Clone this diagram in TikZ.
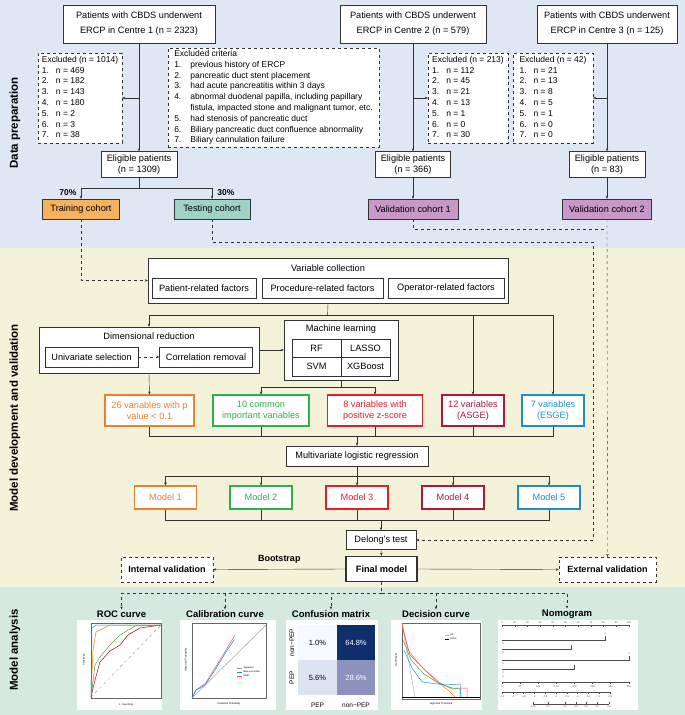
\documentclass[tikz,border=0pt]{standalone}
\usepackage{fontspec}
\setmainfont{Liberation Sans}
\usetikzlibrary{arrows.meta}
\definecolor{bgblue}{HTML}{DFE6F4}
\definecolor{bgyel}{HTML}{F4F2D9}
\definecolor{bggrn}{HTML}{D6E9E0}
\definecolor{ctrain}{HTML}{F6B25C}
\definecolor{ctest}{HTML}{9FD4C5}
\definecolor{cval}{HTML}{C898C7}
\definecolor{corg}{HTML}{F07F2A}
\definecolor{cgrn}{HTML}{2BB24C}
\definecolor{cred}{HTML}{EC1C24}
\definecolor{ccrim}{HTML}{B3163B}
\definecolor{cblu}{HTML}{1E8DCE}
\definecolor{cm1}{HTML}{F6F9FE}
\definecolor{cm2}{HTML}{0E2F6C}
\definecolor{cm3}{HTML}{DCE4F2}
\definecolor{cm4}{HTML}{8A92BD}
\begin{document}
\begin{tikzpicture}[x=1pt,y=-1pt,
  box/.style={draw=black!80,fill=white,inner sep=1pt,align=center,font=\fontsize{9.2}{11}\selectfont},
  dbox/.style={box,dashed},
  cbox/.style={box,line width=1.1pt,font=\fontsize{9.2}{11}\selectfont},
  lst/.style={dbox,font=\fontsize{8.5}{10.8}\selectfont},
  arr/.style={draw=black!80,-{Stealth[length=3pt,width=2.5pt]}},
  ln/.style={draw=black!80},
  dsh/.style={draw=black!80,dashed,-{Stealth[length=3pt,width=2.5pt]}},
  side/.style={rotate=90,font=\fontsize{11.5}{13}\selectfont\bfseries},
  ttl/.style={font=\fontsize{9.5}{11}\selectfont\bfseries,inner sep=1pt},
  tiny/.style={font=\fontsize{2.5}{3}\selectfont,inner sep=0.3pt}]
\useasboundingbox (0,0) rectangle (685,715);
% background bands
\fill[bgblue] (0,0) rectangle (685,248);
\fill[bgyel] (0,248) rectangle (685,587);
\fill[bggrn] (0,587) rectangle (685,715);
\node[side] at (15,123) {Data preparation};
\node[side] at (15,418) {Model development and validation};
\node[side] at (15,650) {Model analysis};

% data preparation
\node[box,minimum width=152,minimum height=38] (c1) at (139,24) {Patients with CBDS underwent\\[4pt]ERCP in Centre 1 (n = 2323)};
\node[box,minimum width=146,minimum height=38] (c2) at (413,24) {Patients with CBDS underwent\\[4pt]ERCP in Centre 2 (n = 579)};
\node[box,minimum width=140,minimum height=38] (c3) at (607,24) {Patients with CBDS underwent\\[4pt]ERCP in Centre 3 (n = 125)};
\node[lst,minimum width=84,minimum height=90] (ex1) at (80,98) {\begin{tabular}{@{}l@{\hspace{7pt}}l@{}}
\multicolumn{2}{@{}l@{}}{Excluded (n = 1014)}\\1.&n = 469\\2.&n = 182\\3.&n = 143\\4.&n = 180\\5.&n = 2\\6.&n = 3\\7.&n = 38\end{tabular}};
\node[lst,minimum width=211,minimum height=99] (crit) at (273.5,97.5) {\begin{tabular}{@{}l@{\hspace{9pt}}l@{}}
\multicolumn{2}{@{}l@{}}{Excluded criteria}\\1.&previous history of ERCP\\2.&pancreatic duct stent placement\\3.&had acute pancreatitis within 3 days\\4.&abnormal duodenal papilla, including papillary\\&fistula, impacted stone and malignant tumor, etc.\\5.&had stenosis of pancreatic duct\\6.&Biliary pancreatic duct confluence abnormality\\7.&Biliary cannulation failure\end{tabular}};
\node[lst,minimum width=80,minimum height=90] (ex2) at (468,98) {\begin{tabular}{@{}l@{\hspace{7pt}}l@{}}
\multicolumn{2}{@{}l@{}}{Excluded (n = 213)}\\1.&n = 112\\2.&n = 45\\3.&n = 21\\4.&n = 13\\5.&n = 1\\6.&n = 0\\7.&n = 30\end{tabular}};
\node[lst,minimum width=80,minimum height=90] (ex3) at (553,98) {\begin{tabular}{@{}l@{\hspace{7pt}}l@{}}
\multicolumn{2}{@{}l@{}}{Excluded (n = 42)\hspace{8pt}}\\1.&n = 21\\2.&n = 13\\3.&n = 8\\4.&n = 5\\5.&n = 1\\6.&n = 0\\7.&n = 0\end{tabular}};
\node[box,minimum width=76,minimum height=26] (el1) at (139,164.5) {Eligible patients\\(n = 1309)};
\node[box,minimum width=75,minimum height=26] (el2) at (413,164.5) {Eligible patients\\(n = 366)};
\node[box,minimum width=76,minimum height=26] (el3) at (607,164.5) {Eligible patients\\(n = 83)};
\node[box,fill=ctrain,minimum width=77,minimum height=20] (tr) at (81,209) {Training cohort};
\node[box,fill=ctest,minimum width=76,minimum height=20] (te) at (212,209) {Testing cohort};
\node[box,fill=cval,minimum width=90,minimum height=20] (v1) at (413,209) {Validation cohort 1};
\node[box,fill=cval,minimum width=89,minimum height=20] (v2) at (607,209) {Validation cohort 2};

\draw[arr] (c1) -- (el1);
\draw[arr] (c2) -- (el2);
\draw[arr] (c3) -- (el3);
\draw[arr] (c1.south |- ex1.east) -- (ex1.east);
\draw[arr] (c2.south |- ex2.west) -- (ex2.west);
\draw[arr] (c3.south |- ex3.east) -- (ex3.east);
\coordinate (b1) at (139,188);
\draw[ln] (el1) -- (b1);
\draw[arr] (b1) -| (tr.north);
\draw[arr] (b1) -| (te.north);
\node[font=\fontsize{8.5}{10}\selectfont\bfseries] at (68,193) {70\%};
\node[font=\fontsize{8.5}{10}\selectfont\bfseries] at (226,193) {30\%};
\draw[arr] (el2) -- (v1);
\draw[arr] (el3) -- (v2);

% model development
\node[box,minimum width=360,minimum height=45] (vc) at (328,280.5) {};
\node[box,draw=none,fill=none] (vct) at (328,268) {Variable collection};
\node[box,minimum width=104,minimum height=20] (pat) at (204,288) {Patient-related factors};
\node[box,minimum width=121,minimum height=20] (proc) at (322.5,288) {Procedure-related factors};
\node[box,minimum width=116,minimum height=20] (op) at (446,288) {Operator-related factors};
\node[box,minimum width=220,minimum height=46] (dr) at (149,350) {};
\node[box,draw=none,fill=none] (drt) at (149,336) {Dimensional reduction};
\node[box,minimum width=93,minimum height=20] (uni) at (91.5,357) {Univariate selection};
\node[box,minimum width=93,minimum height=20] (cor) at (206,357) {Correlation removal};
\node[box,minimum width=114,minimum height=60] (ml) at (341,350) {};
\node[box,draw=none,fill=none] (mlt) at (341,329) {Machine learning};
\node[box,minimum width=49,minimum height=18.5] (rf) at (316.5,348) {RF};
\node[box,minimum width=49,minimum height=18.5] (las) at (365.5,348) {LASSO};
\node[box,minimum width=49,minimum height=18.5] (svm) at (316.5,366.5) {SVM};
\node[box,minimum width=49,minimum height=18.5] (xgb) at (365.5,366.5) {XGBoost};
\node[cbox,draw=corg,text=corg,minimum width=89,minimum height=31] (v26) at (149.5,410.5) {26 variables with p\\value {\textless} 0.1};
\node[cbox,draw=cgrn,text=cgrn,minimum width=96,minimum height=31] (v10) at (261,410.5) {10 common\\important variables};
\node[cbox,draw=cred,text=cred,minimum width=95,minimum height=31] (v8) at (375,410.5) {8 variables with\\positive z-score};
\node[cbox,draw=ccrim,text=ccrim,minimum width=62,minimum height=31] (v12) at (473,410.5) {12 variables\\(ASGE)};
\node[cbox,draw=cblu,text=cblu,minimum width=62,minimum height=31] (v7) at (553,410.5) {7 variables\\(ESGE)};
\node[box,minimum width=142,minimum height=20] (mlr) at (357,456) {Multivariate logistic regression};
\node[cbox,draw=corg,text=corg,minimum width=62,minimum height=23] (m1) at (165.5,497.5) {Model 1};
\node[cbox,draw=cgrn,text=cgrn,minimum width=62,minimum height=23] (m2) at (261,497.5) {Model 2};
\node[cbox,draw=cred,text=cred,minimum width=62,minimum height=23] (m3) at (357,497.5) {Model 3};
\node[cbox,draw=ccrim,text=ccrim,minimum width=62,minimum height=23] (m4) at (453,497.5) {Model 4};
\node[cbox,draw=cblu,text=cblu,minimum width=62,minimum height=23] (m5) at (549,497.5) {Model 5};
\node[box,minimum width=70,minimum height=19] (dl) at (381,540) {Delong's test};
\node[box,line width=1.4pt,minimum width=71,minimum height=25,font=\fontsize{9.2}{11}\selectfont\bfseries] (fm) at (381.5,569) {Final model};
\node[dbox,minimum width=92,minimum height=25,font=\fontsize{9}{11}\selectfont\bfseries] (iv) at (167,569.5) {Internal validation};
\node[dbox,minimum width=97,minimum height=25,font=\fontsize{9}{11}\selectfont\bfseries] (ev) at (607.5,569.5) {External validation};

\draw[dsh] (tr.south) |- (vc.west);
\coordinate (k1) at (593,242);
\draw[dsh] (te.south) |- (k1) |- (dl.east);
\coordinate (k2) at (607,229);
\draw[ln,dashed] (v1.south) |- (k2);
\draw[dsh] (v2.south) -- (ev.north);
\coordinate (h1) at (327.6,315);
\draw[ln] (vc.south) -- (h1);
\draw[arr] (h1) -| (dr.north);
\draw[arr] (h1) -| (v12.north);
\draw[arr] (h1) -| (v7.north);
\draw[dsh] (uni) -- (cor);
\draw[arr] (dr.east) -- (ml.west);
\draw[arr] (dr.south) -- (v26.north);
\coordinate (h6) at (341,387);
\draw[ln] (ml.south) -- (h6);
\draw[arr] (h6) -| (v10.north);
\draw[arr] (h6) -| (v8.north);
\coordinate (h2) at (357,436);
\foreach \n in {v26,v10,v8,v12,v7} \draw[ln] (\n.south) |- (h2);
\draw[arr] (h2) -- (mlr.north);
\coordinate (h3) at (357,476);
\draw[ln] (mlr.south) -- (h3);
\foreach \n in {m1,m2,m3,m4,m5} \draw[arr] (h3) -| (\n.north);
\coordinate (h4) at (381,520);
\foreach \n in {m1,m2,m3,m4,m5} \draw[ln] (\n.south) |- (h4);
\draw[arr] (h4) -- (dl.north);
\draw[arr] (dl.south) -- (fm.north);
\draw[arr] (fm.west) -- node[above=2pt,font=\fontsize{9}{10}\selectfont\bfseries] {Bootstrap} (iv.east);
\draw[arr] (fm.east) -- (ev.west);

% model analysis
\node[ttl] (t1) at (121.5,614) {ROC curve};
\node[ttl] (t2) at (225,614) {Calibration curve};
\node[ttl] (t3) at (331,614) {Confusion matrix};
\node[ttl] (t4) at (436,614) {Decision curve};
\node[ttl] (t5) at (567,614) {Nomogram};
\coordinate (h5) at (381.5,593);
\draw[ln,dashed] (fm.south) -- (h5);
\foreach \n in {t1,t2,t3,t4,t5} \draw[dsh] (h5) -| (\n.north);

% ROC thumbnail
\fill[white] (77,620) rectangle (162,710);
\draw[black!60,line width=0.3pt] (91,623) rectangle (161,698);
\draw[black!50,dashed,line width=0.3pt] (91,697) -- (161,625);
\draw[red!70!black,line width=0.5pt] (91,697) -- (95,680) -- (100,662) -- (110,651) -- (120,645) -- (128,635) -- (140,628) -- (161,625);
\draw[green!50!black!70,line width=0.5pt] (91,697) -- (95,665) -- (100,657) -- (110,645) -- (120,635) -- (135,626) -- (161,625);
\draw[orange,line width=0.5pt] (91,697) -- (93,650) -- (96,632) -- (110,625) -- (161,625);
\draw[cyan!80!blue,line width=0.5pt] (91,697) -- (92,628) -- (96,625) -- (161,625);
\node[tiny] at (126,705) {1 - Specificity};
\node[tiny,rotate=90] at (84,660) {Sensitivity};

% calibration thumbnail
\fill[white] (180,620) rectangle (276,710);
\draw[black!60,line width=0.3pt] (192,623) rectangle (266,698);
\draw[black!40,line width=0.4pt] (192,698) -- (266,625);
\draw[red!70,line width=0.5pt] (192,698) -- (196,690) -- (200,687) -- (205,684) -- (215,668) -- (226,650) -- (235,635);
\draw[cyan!80!blue,line width=0.5pt] (192,698) -- (196,690) -- (200,688) -- (205,685) -- (215,670) -- (226,652) -- (234,640);
\node[tiny,anchor=west] at (243,668) {Apparent};
\node[tiny,anchor=west] at (243,672) {Bias-corrected};
\node[tiny,anchor=west] at (243,676) {Ideal};
\draw[black!40,line width=0.3pt] (237,668) -- (242,668);
\draw[cyan!80!blue,line width=0.3pt] (237,672) -- (242,672);
\draw[red!70,line width=0.3pt] (237,676) -- (242,676);
\node[tiny] at (229,704) {Predicted Probability};
\node[tiny,rotate=90] at (186,660) {Observed Probability};

% confusion matrix thumbnail
\fill[white] (286,620) rectangle (378,710);
\fill[cm1] (298,625) rectangle (337,660);
\fill[cm2] (337,625) rectangle (375,660);
\fill[cm3] (298,660) rectangle (337,695);
\fill[cm4] (337,660) rectangle (375,695);
\node[font=\fontsize{7.5}{9}\selectfont] at (317.5,642.5) {1.0\%};
\node[font=\fontsize{7.5}{9}\selectfont,text=white] at (356,642.5) {64.8\%};
\node[font=\fontsize{7.5}{9}\selectfont] at (317.5,677.5) {5.6\%};
\node[font=\fontsize{7.5}{9}\selectfont,text=white] at (356,677.5) {28.6\%};
\node[font=\fontsize{6.5}{8}\selectfont,rotate=90] at (292,642.5) {non−PEP};
\node[font=\fontsize{6.5}{8}\selectfont,rotate=90] at (292,677.5) {PEP};
\node[font=\fontsize{6.5}{8}\selectfont] at (317.5,705) {PEP};
\node[font=\fontsize{6.5}{8}\selectfont] at (356,705) {non−PEP};

% decision curve thumbnail
\fill[white] (391,620) rectangle (482,710);
\draw[black!60,line width=0.3pt] (402,623) rectangle (480,699);
\draw[black,line width=0.6pt] (402,697) -- (480,697);
\draw[black!30,line width=0.5pt] (402,623) -- (415,697);
\draw[orange,line width=0.5pt] (402,623) -- (408,650) -- (420,665) -- (435,680) -- (448,690) -- (455,697);
\draw[red!70,line width=0.5pt] (402,626) -- (410,655) -- (425,670) -- (440,683) -- (450,688) -- (467,688) -- (467,697);
\draw[green!50!black!70,line width=0.5pt] (403,640) -- (411,660) -- (424,674) -- (438,683) -- (452,688) -- (460,689) -- (460,697);
\draw[cyan!80!blue,line width=0.5pt] (404,650) -- (412,668) -- (422,682) -- (430,683) -- (445,685) -- (460,684) -- (461,697);
\draw[black!30,line width=0.3pt] (445,635) -- (449,635);
\draw[black,line width=0.3pt] (445,639) -- (449,639);
\node[tiny,anchor=west] at (450,635) {All};
\node[tiny,anchor=west] at (450,639) {None};
\node[tiny] at (441,704) {High Risk Threshold};
\node[tiny,rotate=90] at (396,660) {Net Benefit};

% nomogram thumbnail
\fill[white] (498,620) rectangle (638,710);
\begin{scope}[line width=0.3pt,black!70]
\draw (502,625) -- (629,625);
\foreach \i [count=\k from 0] in {0,10,...,100} {
  \draw (502+12.7*\k,625) -- (502+12.7*\k,627);
  \node[tiny] at (502+12.7*\k,622.5) {\i};}
\draw (502,640) -- (605,640) -- (605,636);
\draw (502,649) -- (571,649) -- (571,645);
\draw (502,660) -- (629,660) -- (629,656);
\draw (502,669) -- (574,669) -- (574,665);
\node[tiny] at (503,644) {0}; \node[tiny] at (605,634) {1};
\node[tiny] at (503,653) {0}; \node[tiny] at (503,664) {0};
\node[tiny] at (629,654) {1}; \node[tiny] at (503,673) {0};
\node[tiny] at (503,677) {0};
\draw (502,682) -- (629,682);
\foreach \i [count=\k from 0] in {0,50,...,350} {
  \draw (502+18.1*\k,682) -- (502+18.1*\k,684);
  \node[tiny] at (502+18.1*\k,686.5) {\i};}
\draw (502,692) -- (610,692);
\foreach \i [count=\k from 0] in {-4.5,-4,-3.5,-3,-2.5,-2,-1.5,-1,-0.5,0,0.5} {
  \draw (502+10.8*\k,692) -- (502+10.8*\k,694);
  \node[tiny] at (502+10.8*\k,696.5) {\i};}
\draw (533,704) -- (609,704);
\foreach \i/\p in {0.05/533,0.1/548,0.2/565,0.3/576,0.4/586,0.5/597,0.6/609} {
  \draw (\p,704) -- (\p,702);
  \node[tiny] at (\p,707) {\i};}
\end{scope}
\end{tikzpicture}
\end{document}
